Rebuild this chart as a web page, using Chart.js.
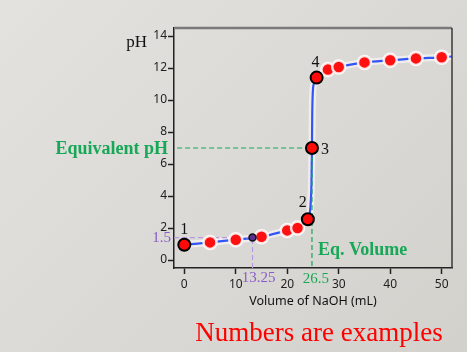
<!DOCTYPE html>
<html>
<head>
<meta charset="utf-8">
<script src="https://cdn.jsdelivr.net/npm/chart.js@4.4.1/dist/chart.umd.min.js"></script>
<style>
    html, body { margin: 0; padding: 0; }
    body {
        width: 467px; height: 352px; overflow: hidden; position: relative;
        background: linear-gradient(135deg, #e4e2df 0%, #dad8d4 60%, #d3d1cc 100%);
    }
    #wrap { position: absolute; left: 0; top: 0; width: 467px; height: 352px; }
    #note {
        position: absolute; left: 0; width: 638px; top: 317px; text-align: center;
        font-family: "Liberation Serif", serif; font-size: 27px; color: #ff0000;
    }
</style>
</head>
<body>
<div id="wrap"><canvas id="titrationChart"></canvas></div>
<div id="note">Numbers are examples</div>
<script>
// Titration curve data
const xTicks = [0, 10, 20, 30, 40, 50];
const yTicks = [0, 2, 4, 6, 8, 10, 12, 14];

const curveVol = [-1, 0, 5, 10, 15, 20, 22, 23.3, 24, 24.5, 24.7, 24.8, 24.85, 24.95, 25.2, 25.7, 27.9, 30, 35, 40, 45, 50, 52];
const curvePH  = [0.9, 0.95, 1.1, 1.27, 1.45, 1.85, 2.0, 2.3, 2.55, 3.3, 4.8, 7.0, 9.0, 10.4, 11.05, 11.4, 11.9, 12.06, 12.35, 12.48, 12.6, 12.67, 12.72];

const sampleVol = [5, 10, 15, 20, 22, 27.9, 30, 35, 40, 45, 50];
const samplePH  = [1.1, 1.27, 1.45, 1.85, 2.0, 11.9, 12.06, 12.35, 12.48, 12.6, 12.67];

const keyVol    = [0, 24, 24.8, 25.7];
const keyPH     = [0.95, 2.55, 7.0, 11.4];
const keyLabels = ['1', '2', '3', '4'];

const halfVol = 13.25;
const halfPH  = 1.4;
const eqVol   = 24.8;
const eqPH    = 7.0;

const toPts = (xs, ys) => xs.map((x, i) => ({ x: x, y: ys[i] }));

const GREEN = '#17a857';
const PURPLE = '#8a5cc8';

// draws the text annotations and the top/right frame
const annotations = {
    id: 'annotations',
    afterDraw(chart) {
        const ctx = chart.ctx;
        const xs = chart.scales.x, ys = chart.scales.y;
        const area = chart.chartArea;
        ctx.save();

        // frame
        ctx.strokeStyle = '#7a7a7a';
        ctx.lineWidth = 2.5;
        ctx.beginPath();
        ctx.moveTo(area.left, area.top);
        ctx.lineTo(area.right, area.top);
        ctx.stroke();
        ctx.strokeStyle = '#3a3a3a';
        ctx.lineWidth = 1.5;
        ctx.beginPath();
        ctx.moveTo(area.right, area.top);
        ctx.lineTo(area.right, area.bottom);
        ctx.stroke();

        ctx.textBaseline = 'middle';

        // pH label
        ctx.fillStyle = '#111';
        ctx.font = '17px "Liberation Serif"';
        ctx.textAlign = 'right';
        ctx.fillText('pH', area.left - 27, ys.getPixelForValue(14) + 7);

        // point numbers
        ctx.font = '16px "Liberation Serif"';
        ctx.textAlign = 'center';
        const offs = [[0, -15], [-5, -16], [13, 2], [-1, -15]];
        keyLabels.forEach((lab, i) => {
            ctx.fillText(lab, xs.getPixelForValue(keyVol[i]) + offs[i][0], ys.getPixelForValue(keyPH[i]) + offs[i][1]);
        });

        // equivalent labels
        ctx.fillStyle = GREEN;
        ctx.font = 'bold 18px "Liberation Serif"';
        ctx.textAlign = 'right';
        ctx.fillText('Equivalent pH', area.left - 6, ys.getPixelForValue(eqPH) + 1);
        ctx.textAlign = 'left';
        ctx.fillText('Eq. Volume', xs.getPixelForValue(eqVol) + 6, ys.getPixelForValue(0.6));
        ctx.font = '15px "Liberation Serif"';
        ctx.textAlign = 'center';
        ctx.fillText('26.5', xs.getPixelForValue(eqVol) + 4, area.bottom + 11);

        // half equivalence labels
        ctx.fillStyle = PURPLE;
        ctx.textAlign = 'right';
        ctx.fillText('1.5', area.left - 3, ys.getPixelForValue(halfPH));
        ctx.textAlign = 'center';
        ctx.fillText('13.25', xs.getPixelForValue(halfVol) + 6, area.bottom + 10);

        ctx.restore();
    }
};

const ctx = document.getElementById('titrationChart').getContext('2d');
new Chart(ctx, {
    type: 'scatter',
    data: {
        datasets: [
            {
                // half-equivalence marker
                data: toPts([halfVol], [halfPH]),
                pointRadius: 3.5,
                pointBackgroundColor: '#5b2f8f',
                pointBorderColor: '#111',
                pointBorderWidth: 1.5,
                order: 1
            },
            {
                // numbered points
                data: toPts(keyVol, keyPH),
                pointRadius: 6,
                pointBackgroundColor: '#ff0a0a',
                pointBorderColor: '#000',
                pointBorderWidth: 2,
                order: 2
            },
            {
                // measured points
                data: toPts(sampleVol, samplePH),
                pointRadius: 6.5,
                pointBackgroundColor: '#ff1010',
                pointBorderColor: 'rgba(255,255,255,0.85)',
                pointBorderWidth: 2.5,
                order: 3
            },
            {
                data: [{ x: -2, y: halfPH }, { x: halfVol, y: halfPH }, { x: halfVol, y: -0.5 }],
                showLine: true,
                pointRadius: 0,
                borderColor: '#b89ae0',
                borderWidth: 1.2,
                borderDash: [5, 3],
                clip: false,
                order: 8
            },
            {
                data: [{ x: -1.4, y: eqPH }, { x: eqVol, y: eqPH }, { x: eqVol, y: -0.5 }],
                showLine: true,
                pointRadius: 0,
                borderColor: GREEN,
                borderWidth: 1.2,
                borderDash: [5, 3],
                clip: false,
                order: 7
            },
            {
                // titration curve
                data: toPts(curveVol, curvePH),
                showLine: true,
                pointRadius: 0,
                borderColor: '#3355f5',
                borderWidth: 2.2,
                cubicInterpolationMode: 'monotone',
                order: 9
            },
            {
                // white halo under the curve
                data: toPts(curveVol, curvePH),
                showLine: true,
                pointRadius: 0,
                borderColor: 'rgba(255,255,255,0.55)',
                borderWidth: 7,
                cubicInterpolationMode: 'monotone',
                order: 10
            }
        ]
    },
    options: {
        responsive: true,
        maintainAspectRatio: false,
        animation: false,
        layout: { padding: { left: 0, right: 15, top: 28, bottom: 41 } },
        plugins: {
            legend: { display: false },
            tooltip: { enabled: false }
        },
        scales: {
            x: {
                type: 'linear',
                min: -2,
                max: 52,
                afterFit: s => { s.height = 43; },
                afterBuildTicks: s => { s.ticks = xTicks.map(v => ({ value: v })); },
                border: { color: '#222', width: 1.5 },
                grid: { drawOnChartArea: false, color: '#222', tickLength: 6, tickWidth: 1.5 },
                ticks: { color: '#222', padding: 3, font: { family: 'Noto Sans', size: 12 } },
                title: {
                    display: true,
                    text: 'Volume of NaOH (mL)',
                    color: '#111',
                    padding: { top: 0, bottom: 2 },
                    font: { family: 'Noto Sans', size: 12.5 }
                }
            },
            y: {
                type: 'linear',
                min: -0.5,
                max: 14.5,
                afterFit: s => { s.width = 174; },
                afterBuildTicks: s => { s.ticks = yTicks.map(v => ({ value: v })); },
                border: { color: '#222', width: 1.5 },
                grid: { drawOnChartArea: false, color: '#222', tickLength: 6, tickWidth: 1.5 },
                ticks: { color: '#222', padding: 1, font: { family: 'Noto Sans', size: 12 } }
            }
        }
    },
    plugins: [annotations]
});
</script>
</body>
</html>
